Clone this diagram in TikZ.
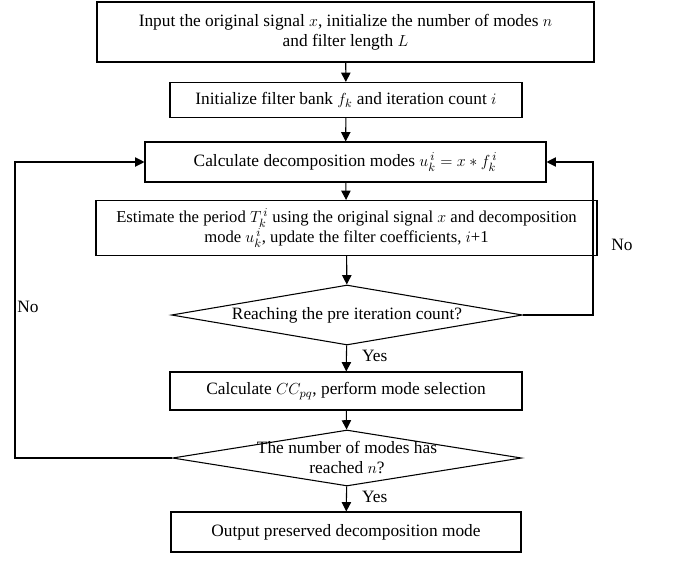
\documentclass[tikz,border=0pt]{standalone}
\usepackage{fontspec}
\setmainfont{Liberation Serif}
\usetikzlibrary{shapes.geometric,arrows.meta}
\begin{document}
\begin{tikzpicture}[x=0.75pt,y=-0.75pt,font=\fontsize{13}{15}\selectfont,
  box/.style={draw,thick,minimum height=#1*0.75pt,align=center,inner sep=1pt},
  dec/.style={draw,thick,diamond,aspect=6,inner sep=0pt},
  arr/.style={thick,-{Triangle[length=7pt,width=7pt]}}]
\useasboundingbox (0,0) rectangle (685,575);
\node[box=60,minimum width=497*0.75pt] (b1) at (345.5,32) {Input the original signal $x$, initialize the number of modes $n$\\and filter length $L$};
\node[box=35,minimum width=352*0.75pt] (b2) at (346,100) {Initialize filter bank $f_k$ and iteration count $i$};
\node[box=40,minimum width=401*0.75pt] (b3) at (345.5,162) {Calculate decomposition modes $u_k^{\,i}=x*f_k^{\,i}$};
\node[box=55,minimum width=501*0.75pt,font=\fontsize{12.5}{15}\selectfont] (b4) at (346.5,228) {Estimate the period $T_k^{\,i}$ using the original signal $x$ and decomposition\\mode $u_k^{\,i}$, update the filter coefficients, $i$+1};
\node[dec,minimum width=351*0.75pt,minimum height=60*0.75pt] (d1) at (347,315) {};
\node at (d1) {Reaching the pre iteration count?};
\node[box=38,minimum width=352*0.75pt] (b5) at (346,391) {Calculate $CC_{pq}$, perform mode selection};
\node[dec,minimum width=349*0.75pt,minimum height=56*0.75pt] (d2) at (347,458) {};
\node[align=center] at (d2) {The number of modes has\\reached $n$?};
\node[box=40,minimum width=350*0.75pt] (b6) at (346,532) {Output preserved decomposition mode};
\draw[arr] (b1) -- (b2);
\draw[arr] (b2) -- (b3);
\draw[arr] (b3) -- (b4);
\draw[arr] (b4) -- (d1);
\draw[arr] (d1) -- node[right=8pt,pos=0.4] {Yes} (b5);
\draw[arr] (b5) -- (d2);
\draw[arr] (d2) -- node[right=8pt,pos=0.4] {Yes} (b6);
\coordinate (r1) at (593,315);
\coordinate (l1) at (15,458);
\draw[arr] (d1.east) -- (r1) |- (b3.east);
\draw[arr] (d2.west) -- (l1) |- (b3.west);
\node at (622,245) {No};
\node at (28,307) {No};
\end{tikzpicture}
\end{document}
